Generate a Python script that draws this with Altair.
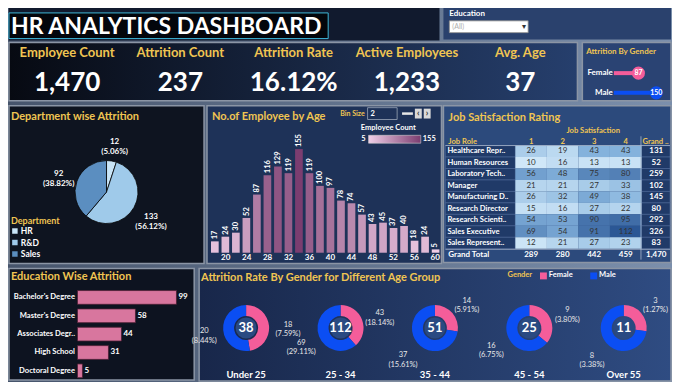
import math
import numpy as np
import pandas as pd
import altair as alt

# ------------------------------------------------------------------ data
dashboard_title = "HR ANALYTICS DASHBOARD"
kpi_labels = ["Employee Count", "Attrition Count", "Attrition Rate", "Active Employees", "Avg. Age"]
kpi_values = ["1,470", "237", "16.12%", "1,233", "37"]

genders = ["Female", "Male"]
gender_attrition = [87, 150]

departments = ["HR", "R&D", "Sales"]
dept_attrition = [12, 133, 92]

age_bins = list(range(18, 61, 2))
age_counts = [17, 24, 30, 52, 87, 116, 129, 119, 155, 119, 100, 97, 78, 74, 57, 43, 45, 37, 40, 18, 24, 5]
age_ticks = list(range(20, 61, 4))

job_roles = ["Healthcare Repr..", "Human Resources", "Laboratory Tech..", "Manager", "Manufacturing D..",
             "Research Director", "Research Scienti..", "Sales Executive", "Sales Represent.."]
satisfaction_levels = ["1", "2", "3", "4"]
sat_counts = [
    [26, 19, 43, 43],
    [10, 16, 13, 13],
    [56, 48, 75, 80],
    [21, 21, 27, 33],
    [26, 32, 49, 38],
    [15, 16, 27, 22],
    [54, 53, 90, 95],
    [69, 54, 91, 112],
    [12, 21, 27, 23],
]

education_levels = ["Bachelor's Degree", "Master's Degree", "Associates Degr..", "High School", "Doctoral Degree"]
education_attrition = [99, 58, 44, 31, 5]

age_groups = ["Under 25", "25 - 34", "35 - 44", "45 - 54", "Over 55"]
female_attrition = [18, 43, 14, 9, 3]
male_attrition = [20, 69, 37, 16, 8]

# ------------------------------------------------------------------ style
FONT = "Lato"
YEL = "#f0c552"
PINK = "#f45d9a"
BLUE = "#0b4ef3"
gender_colors = [PINK, BLUE]
dept_colors = ["#c9e5f7", "#9fcaea", "#5b8ec0"]
W, H = 664, 374


def X(v):
    return (v - 5) * W / 674.0


def Y(v):
    return (v - 4) * H / 379.0


one = pd.DataFrame({"k": [0]})
L = []


def grad(c0, c1, horizontal=True):
    return alt.LinearGradient(
        gradient="linear",
        stops=[alt.GradientStop(color=c0, offset=0), alt.GradientStop(color=c1, offset=1)],
        x1=0, x2=1 if horizontal else 0, y1=0, y2=0 if horizontal else 1,
    )


def box(x0, y0, x1, y1, fill, stroke=None, sw=1.0):
    kw = {"fill": fill}
    if stroke:
        kw.update(stroke=stroke, strokeWidth=sw)
    return alt.Chart(one).mark_rect(**kw).encode(
        x=alt.value(X(x0)), x2=alt.value(X(x1)), y=alt.value(Y(y0)), y2=alt.value(Y(y1))
    )


def line(x0, y0, x1, y1, color, sw=1.0):
    return alt.Chart(one).mark_rule(color=color, strokeWidth=sw).encode(
        x=alt.value(X(x0)), x2=alt.value(X(x1)), y=alt.value(Y(y0)), y2=alt.value(Y(y1))
    )


def txt(s, x, y, size, color="white", weight="bold", align="left", baseline="middle"):
    return alt.Chart(pd.DataFrame({"t": [s]})).mark_text(
        font=FONT, fontSize=size, fontWeight=weight, color=color, align=align, baseline=baseline
    ).encode(x=alt.value(X(x)), y=alt.value(Y(y)), text="t:N")


# ------------------------------------------------------------------ backgrounds
L.append(box(-10, -10, 700, 400, grad("#45536a", "#7d91ae")))
PSTROKE = "#8b95a5"
L.append(box(6, 4, 443, 37, "#111a2e"))
L.append(box(6, 9, 330, 35, "#03060c", "#3fb6d8", 1))
L.append(box(447, 4, 678, 36, "#2a416d"))
L.append(box(6, 39, 583, 98, grad("#070a12", "#263f6d"), PSTROKE, 1.5))
L.append(box(588, 39, 678, 98, "#2a4373", PSTROKE, 1.5))
L.append(box(6, 103, 204, 263, "#0e1420", PSTROKE, 1.5))
L.append(box(207, 103, 445, 263, "#1e3258", PSTROKE, 1.5))
L.append(box(447, 103, 678, 262, "#2c4a7c", PSTROKE, 1.5))
L.append(box(6, 268, 194, 381, "#0d1320", PSTROKE, 1.5))
L.append(box(199, 268, 678, 382, grad("#18274a", "#2f4c82"), PSTROKE, 1.5))

# ------------------------------------------------------------------ title + filter
L.append(txt(dashboard_title, 8, 23, 23, "white", "bold"))
L.append(txt("Education", 453, 10, 8, "white"))
L.append(box(453, 17, 533, 29, "#ffffff", "#888888", 0.8))
L.append(txt("(All)", 456, 23, 7, "#b0b0b0", "normal"))
L.append(txt("▾", 529, 23, 8, "#333333", "normal", "center"))

# ------------------------------------------------------------------ KPIs
kpi_df = pd.DataFrame({"label": kpi_labels, "value": kpi_values})
kx = alt.X("label:N", scale=alt.Scale(type="point", domain=kpi_labels, range=[X(65), X(525)], padding=0), axis=None)
L.append(alt.Chart(kpi_df).mark_text(font=FONT, fontSize=13, fontWeight="bold", color=YEL).encode(
    x=kx, y=alt.value(Y(50)), text="label:N"))
L.append(alt.Chart(kpi_df).mark_text(font=FONT, fontSize=26, fontWeight="bold", color="white").encode(
    x=kx, y=alt.value(Y(80)), text="value:N"))

# ------------------------------------------------------------------ Attrition by gender
L.append(txt("Attrition By Gender", 592, 49, 8, YEL))
g_df = pd.DataFrame({"gender": genders, "n": gender_attrition})
gy = alt.Y("gender:N", scale=alt.Scale(type="point", domain=genders, range=[Y(70), Y(90)], padding=0), axis=None)
gx = alt.X("n:Q", scale=alt.Scale(domain=[0, 150], range=[X(620), X(663)], nice=False, zero=True), axis=None)
gc = alt.Color("gender:N", scale=alt.Scale(domain=genders, range=gender_colors), legend=None)
L.append(alt.Chart(g_df).mark_rule(strokeWidth=4).encode(x=gx, x2=alt.datum(0), y=gy, color=gc))
L.append(alt.Chart(g_df).mark_circle(size=170, opacity=1).encode(x=gx, y=gy, color=gc))
L.append(alt.Chart(g_df).mark_text(font=FONT, fontSize=7, fontWeight="bold", color="white").encode(
    x=gx, y=gy, text="n:Q"))
L.append(alt.Chart(g_df).mark_text(font=FONT, fontSize=8, fontWeight="bold", color="white", align="right", dx=-1).encode(
    x=alt.value(X(620)), y=gy, text="gender:N"))

# ------------------------------------------------------------------ Department pie
TH = alt.Scale(domain=[0, 1], range=[0, 2 * math.pi])
dtot = sum(dept_attrition)
dcum = np.cumsum([0] + dept_attrition) / dtot
pie_df = pd.DataFrame({
    "dept": departments, "n": dept_attrition, "t0": dcum[:-1], "t1": dcum[1:],
})
pie_df["mid"] = (pie_df["t0"] + pie_df["t1"]) / 2
pie_df["lab"] = [f"{n}\n({n / dtot * 100:.2f}%)" for n in dept_attrition]
dc = alt.Color("dept:N", scale=alt.Scale(domain=departments, range=dept_colors), legend=None)
L.append(txt("Department wise Attrition", 8, 114, 11, YEL))
L.append(alt.Chart(pie_df).mark_arc(outerRadius=31.5, stroke="#050505", strokeWidth=0.8).encode(
    theta=alt.Theta("t0:Q", scale=TH, stack=False), theta2="t1:Q", color=dc,
    x=alt.value(X(105)), y=alt.value(Y(190.5))))
L.append(alt.Chart(pie_df).mark_text(radius=51, lineBreak="\n", font=FONT, fontSize=8, fontWeight="bold", color="white").encode(
    theta=alt.Theta("mid:Q", scale=TH, stack=False), text="lab:N",
    x=alt.value(X(105)), y=alt.value(Y(190.5))))
L.append(txt("Department", 8, 220, 9, YEL))
dly = alt.Y("dept:N", scale=alt.Scale(type="point", domain=departments, range=[Y(230), Y(253.3)], padding=0), axis=None)
L.append(alt.Chart(pie_df).mark_square(size=30, opacity=1).encode(x=alt.value(X(12)), y=dly, color=dc))
L.append(alt.Chart(pie_df).mark_text(font=FONT, fontSize=8.5, fontWeight="bold", color="white", align="left").encode(
    x=alt.value(X(18)), y=dly, text="dept:N"))

# ------------------------------------------------------------------ Histogram
L.append(txt("No.of Employee by Age", 212, 114, 11, YEL))
L.append(txt("Bin Size", 367, 111, 7, YEL, "bold", "right"))
L.append(box(370, 105, 400, 117, "#1e3258", "#9aa6b8", 0.8))
L.append(txt("2", 373, 111, 7.5, "white"))
L.append(line(405, 111, 416, 111, "#e6e6e6", 2.5))
L.append(box(418, 106, 425, 116, "#d9d9d9"))
L.append(box(427, 106, 434, 116, "#d9d9d9"))
L.append(txt("‹", 421.5, 110.5, 9, "#333333", "bold", "center"))
L.append(txt("›", 430.5, 110.5, 9, "#333333", "bold", "center"))
L.append(txt("Employee Count", 391, 126, 7.5, "white", "bold", "center"))
L.append(box(371, 133, 424, 141, grad("#f0cfe8", "#7b3d70"), "#cccccc", 0.6))
L.append(txt("5", 368, 137, 7.5, "white", "bold", "right"))
L.append(txt("155", 426, 137, 7.5, "white", "bold", "left"))

hist_df = pd.DataFrame({"age": age_bins, "n": age_counts})
hx = alt.X("age:O", scale=alt.Scale(domain=age_bins, range=[X(210), X(444)], paddingInner=0.27, paddingOuter=0.1), axis=None)
hy = alt.Y("n:Q", scale=alt.Scale(domain=[0, 155], range=[Y(252), Y(147)], nice=False, zero=True), axis=None)
hc = alt.Color("n:Q", scale=alt.Scale(domain=[5, 155], range=["#efcde6", "#7b3d70"]), legend=None)
L.append(alt.Chart(hist_df).mark_bar().encode(x=hx, y=hy, color=hc))
L.append(alt.Chart(hist_df).mark_text(angle=270, align="left", baseline="middle", dx=2, font=FONT, fontSize=7.5,
                                      fontWeight="bold", color="white").encode(x=hx, y=hy, text="n:Q"))
tick_df = pd.DataFrame({"age": age_ticks})
L.append(alt.Chart(tick_df).mark_text(font=FONT, fontSize=8, fontWeight="bold", color="white").encode(
    x=hx, y=alt.value(Y(257.5)), text="age:O"))

# ------------------------------------------------------------------ Job satisfaction table
L.append(txt("Job Satisfaction Rating", 452, 115, 11, YEL))
cells = pd.DataFrame(
    [(r, s, sat_counts[i][j]) for i, r in enumerate(job_roles) for j, s in enumerate(satisfaction_levels)],
    columns=["role", "sat", "n"],
)
row_tot = pd.DataFrame({"role": job_roles, "n": [sum(r) for r in sat_counts]})
col_tot = pd.DataFrame({"sat": satisfaction_levels, "n": [sum(c) for c in zip(*sat_counts)]})
grand = f"{sum(sum(r) for r in sat_counts):,}"
tx = alt.X("sat:N", scale=alt.Scale(domain=satisfaction_levels, range=[X(520), X(648)], paddingInner=0, paddingOuter=0), axis=None)
ty = alt.Y("role:N", scale=alt.Scale(domain=job_roles, range=[Y(143.4), Y(248)], paddingInner=0, paddingOuter=0), axis=None)
tc = alt.Color("n:Q", scale=alt.Scale(domain=[10, 43, 112], range=["#d0e7f8", "#84b2dc", "#2b5795"]), legend=None)
L.append(alt.Chart(row_tot).mark_rect(fill="#203a68", stroke="#5a74a3", strokeWidth=0.5).encode(
    x=alt.value(X(449)), x2=alt.value(X(520)), y=ty))
L.append(alt.Chart(row_tot).mark_rect(fill="#203a68", stroke="#5a74a3", strokeWidth=0.5).encode(
    x=alt.value(X(648)), x2=alt.value(X(677)), y=ty))
L.append(alt.Chart(cells).mark_rect().encode(x=tx, y=ty, color=tc))
L.append(alt.Chart(cells).mark_text(font=FONT, fontSize=8, color="#333333").encode(x=tx, y=ty, text="n:Q"))
L.append(alt.Chart(row_tot).mark_text(font=FONT, fontSize=7.6, fontWeight="bold", color="white", align="left").encode(
    x=alt.value(X(451)), y=ty, text="role:N"))
L.append(alt.Chart(row_tot).mark_text(font=FONT, fontSize=8, fontWeight="bold", color="white").encode(
    x=alt.value(X(663)), y=ty, text="n:Q"))
L.append(txt("Job Satisfaction", 599, 129, 7.6, YEL, "bold", "center"))
L.append(txt("Job Role", 452, 139.5, 7.6, YEL))
L.append(alt.Chart(col_tot).mark_text(font=FONT, fontSize=7.6, fontWeight="bold", color=YEL).encode(
    x=tx, y=alt.value(Y(139.5)), text="sat:N"))
L.append(txt("Grand ..", 649, 139.5, 7.6, YEL))
L.append(line(449, 143.4, 677, 143.4, "#aab6cc", 0.8))
L.append(line(449, 248.5, 677, 248.5, "#aab6cc", 0.8))
L.append(line(647.5, 134, 647.5, 259, "#aab6cc", 0.8))
L.append(txt("Grand Total", 452, 254, 8, "white"))
L.append(alt.Chart(col_tot).mark_text(font=FONT, fontSize=8, fontWeight="bold", color="white").encode(
    x=tx, y=alt.value(Y(254)), text="n:Q"))
L.append(txt(grand, 663, 254, 8, "white", "bold", "center"))

# ------------------------------------------------------------------ Education bars
L.append(txt("Education Wise Attrition", 8, 277, 11, YEL))
edu_df = pd.DataFrame({"edu": education_levels, "n": education_attrition})
ey = alt.Y("edu:N", scale=alt.Scale(domain=education_levels, range=[Y(288), Y(381)], paddingInner=0.25, paddingOuter=0.125), axis=None)
ex = alt.X("n:Q", scale=alt.Scale(domain=[0, 99], range=[X(75.5), X(176)], nice=False, zero=True), axis=None)
L.append(alt.Chart(edu_df).mark_bar(fill="#d8769e", stroke="#4a2034", strokeWidth=0.8).encode(x=ex, y=ey))
L.append(alt.Chart(edu_df).mark_text(font=FONT, fontSize=8, fontWeight="bold", color="white", align="left", dx=2).encode(
    x=ex, y=ey, text="n:Q"))
L.append(alt.Chart(edu_df).mark_text(font=FONT, fontSize=7.6, fontWeight="bold", color="white", align="right").encode(
    x=alt.value(X(73)), y=ey, text="edu:N"))

# ------------------------------------------------------------------ Donuts by age group
L.append(txt("Attrition Rate By Gender for Different Age Group", 201, 277.5, 11, YEL))
L.append(txt("Gender", 512, 275, 7.5, YEL))
L.append(box(545, 272, 552, 279, PINK))
L.append(txt("Female", 554, 275, 7.5, "white"))
L.append(box(596, 272, 603, 279, BLUE))
L.append(txt("Male", 605, 275, 7.5, "white"))

tot_attr = sum(female_attrition) + sum(male_attrition)
rows = []
for g, f, m in zip(age_groups, female_attrition, male_attrition):
    t = f + m
    rows.append(dict(grp=g, gender="Female", n=f, tot=t, t0=0.0, t1=f / t, mid=f / t / 2,
                     lab=f"{f}\n({f / tot_attr * 100:.2f}%)"))
    rows.append(dict(grp=g, gender="Male", n=m, tot=t, t0=f / t, t1=1.0, mid=(f / t + 1) / 2,
                     lab=f"{m}\n({m / tot_attr * 100:.2f}%)"))
don_df = pd.DataFrame(rows)
grp_df = don_df[don_df["gender"] == "Female"]
dx_ = alt.X("grp:N", scale=alt.Scale(type="point", domain=age_groups, range=[X(246.7), X(630)], padding=0), axis=None)
CY = Y(328.3)
L.append(alt.Chart(don_df).mark_arc(innerRadius=12, outerRadius=23).encode(
    theta=alt.Theta("t0:Q", scale=TH, stack=False), theta2="t1:Q", color=gc,
    x=dx_, y=alt.value(CY)))
L.append(alt.Chart(grp_df).mark_circle(size=440, opacity=1, color="#2a4a82").encode(x=dx_, y=alt.value(CY)))
L.append(alt.Chart(grp_df).mark_text(font=FONT, fontSize=13, fontWeight="bold", color="white").encode(
    x=dx_, y=alt.value(CY), text="tot:Q"))
L.append(alt.Chart(don_df).mark_text(radius=42, lineBreak="\n", font=FONT, fontSize=7.5, color="#e8e8e8").encode(
    theta=alt.Theta("mid:Q", scale=TH, stack=False), text="lab:N", x=dx_, y=alt.value(CY)))
L.append(alt.Chart(grp_df).mark_text(font=FONT, fontSize=9.5, fontWeight="bold", color="white").encode(
    x=dx_, y=alt.value(Y(375.5)), text="grp:N"))

chart = alt.layer(*L).resolve_scale(
    x="independent", y="independent", color="independent", theta="independent"
).properties(width=W, height=H, autosize="none", padding=0).configure_view(stroke=None)

chart.save("out.html", embed_options={"renderer": "svg", "actions": False})
